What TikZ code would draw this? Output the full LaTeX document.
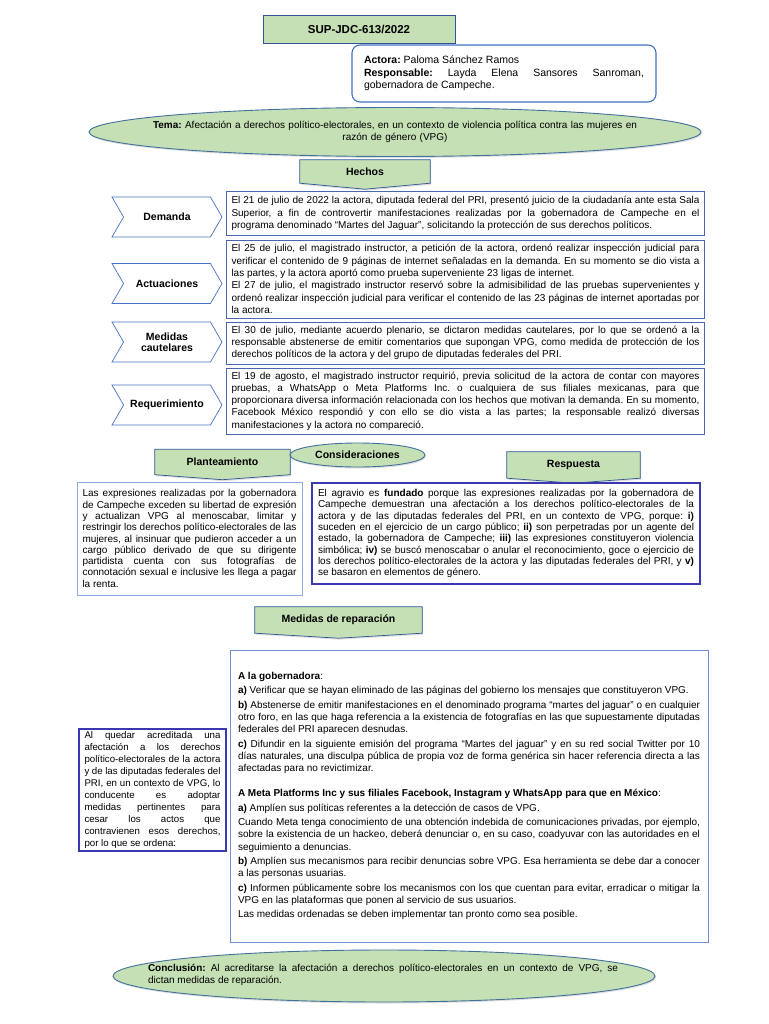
\documentclass[tikz,border=0pt]{standalone}
\usepackage{fontspec}
\setmainfont{Liberation Sans}
\usetikzlibrary{shapes.geometric,shapes.symbols,backgrounds,shadows}
\frenchspacing
\definecolor{gfill}{HTML}{C5E0B4}
\definecolor{gbord}{HTML}{2F5597}
\definecolor{ebord}{HTML}{41719C}
\definecolor{tbord}{HTML}{4A68B0}
\definecolor{vbord}{HTML}{3A3AAE}
\definecolor{lbord}{HTML}{8FAADC}
\definecolor{mbord}{HTML}{7090D0}
\definecolor{chevc}{HTML}{4472C4}
\newcommand\nohyph{\frenchspacing\hyphenpenalty=10000\exhyphenpenalty=10000\tolerance=9999\emergencystretch=20pt\hbadness=10000\hfuzz=3pt}
\newcommand\bodyfs{\fontsize{10}{12.3}\selectfont\nohyph}
\newcommand\smallfs{\fontsize{10}{11.3}\selectfont\nohyph}
\newcommand\headfs{\fontsize{10.5}{11.5}\selectfont\bfseries}
\newcommand\lb{\linebreak}
\begin{document}
\begin{tikzpicture}[x=1pt,y=-1pt,
  gshape/.style={fill=gfill,draw=gbord,line width=0.7pt,
     drop shadow={shadow xshift=1pt,shadow yshift=-1.5pt,opacity=0.25}},
  ghead/.style={font=\headfs,inner sep=0pt,anchor=center},
  gell/.style={ellipse,fill=gfill,draw=ebord,line width=0.9pt,inner sep=0pt,
     drop shadow={shadow xshift=1pt,shadow yshift=-1.5pt,opacity=0.25}},
  chevbox/.style={signal,signal from=west,signal to=east,signal pointer angle=120,
     draw=chevc,line width=0.7pt,fill=white,font=\headfs,minimum width=110pt,
     minimum height=40pt,inner sep=0pt},
  txtbox/.style={draw=tbord,line width=1pt,fill=white,font=\bodyfs,align=justify,
     inner xsep=5pt,inner ysep=2pt},
]
\useasboundingbox (0,0) rectangle (768,1024);
\begin{scope}[on background layer]
\fill[white] (0,0) rectangle (768,1024);
\end{scope}

% Title
\node[fill=gfill,draw=gbord,line width=0.8pt,minimum width=192pt,minimum height=28pt,
  font=\fontsize{11.5}{13}\selectfont\bfseries,
  drop shadow={shadow xshift=1pt,shadow yshift=-1.5pt,opacity=0.25}] (title) at (359,29) {SUP-JDC-613/2022};

% Actora
\node[draw=chevc,line width=1.1pt,rounded corners=8pt,fill=white,minimum width=304pt,
  minimum height=57pt,font=\fontsize{10.5}{12.5}\selectfont\nohyph,text width=280pt,align=justify,inner xsep=12pt] (actora) at (504,73.5)
  {\textbf{Actora:} Paloma Sánchez Ramos\\
  \textbf{Responsable:} Layda Elena Sansores Sanroman,\lb gobernadora de Campeche.};

% Tema
\node[gell,minimum width=612pt,minimum height=49pt] (tema) at (395,132) {};
\node[font=\bodyfs,text width=500pt,align=center,inner sep=0pt] (tematxt) at (tema.center)
  {\textbf{Tema:} Afectación a derechos político-electorales, en un contexto de violencia política contra las mujeres en\\ razón de género (VPG)};

% Hechos
\node[ghead,minimum width=130pt,minimum height=23pt] (hechos) at (365,171.5) {Hechos};
\begin{scope}[on background layer]
\draw[gshape] (hechos.north west) -- (hechos.north east) -- (hechos.south east)
  -- ([yshift=-6pt]hechos.south) -- (hechos.south west) -- cycle;
\end{scope}

% Demanda
\node[chevbox] (demanda) at (167,217) {Demanda};
\node[txtbox,text width=468pt,minimum height=43pt] (demtxt) at (465.5,213.5)
  {El 21 de julio de 2022 la actora, diputada federal del PRI, presentó juicio de la ciudadanía ante esta Sala\lb Superior, a fin de controvertir manifestaciones realizadas por la gobernadora de Campeche en el\lb programa denominado “Martes del Jaguar”, solicitando la protección de sus derechos políticos.};

% Actuaciones
\node[chevbox] (actuac) at (167,283.5) {Actuaciones};
\node[txtbox,text width=468pt,minimum height=78pt] (acttxt) at (465.5,279)
  {El 25 de julio, el magistrado instructor, a petición de la actora, ordenó realizar inspección judicial para\lb verificar el contenido de 9 páginas de internet señaladas en la demanda. En su momento se dio vista a\lb las partes, y la actora aportó como prueba superveniente 23 ligas de internet.\\
  El 27 de julio, el magistrado instructor reservó sobre la admisibilidad de las pruebas supervenientes y\lb ordenó realizar inspección judicial para verificar el contenido de las 23 páginas de internet aportadas por\lb la actora.};

% Medidas cautelares
\node[chevbox,align=center] (medcaut) at (167,342) {Medidas\\cautelares};
\node[txtbox,text width=468pt,minimum height=42pt] (medtxt) at (465.5,343)
  {El 30 de julio, mediante acuerdo plenario, se dictaron medidas cautelares, por lo que se ordenó a la\lb responsable abstenerse de emitir comentarios que supongan VPG, como medida de protección de los\lb derechos políticos de la actora y del grupo de diputadas federales del PRI.};

% Requerimiento
\node[chevbox] (reque) at (167,405) {Requerimiento};
\node[txtbox,text width=468pt,minimum height=66pt] (reqtxt) at (465.5,401)
  {El 19 de agosto, el magistrado instructor requirió, previa solicitud de la actora de contar con mayores\lb pruebas, a WhatsApp o Meta Platforms Inc. o cualquiera de sus filiales mexicanas, para que\lb proporcionara diversa información relacionada con los hechos que motivan la demanda. En su momento,\lb Facebook México respondió y con ello se dio vista a las partes; la responsable realizó diversas\lb manifestaciones y la actora no compareció.};

% Consideraciones
\node[gell,minimum width=135pt,minimum height=24pt] (consid) at (357.5,455) {};
\node[ghead] (considtxt) at (357.5,454.5) {Consideraciones};

\node[ghead,minimum width=135pt,minimum height=25pt] (plant) at (222.5,462) {Planteamiento};
\node[ghead,minimum width=133pt,minimum height=26pt] (resp) at (573.5,465) {Respuesta};
\node[ghead,minimum width=167pt,minimum height=26pt] (medrep) at (338.5,620) {Medidas de reparación};
\begin{scope}[on background layer]
\draw[gshape] (plant.north west) -- (plant.north east) -- (plant.south east)
  -- ([yshift=-5pt]plant.south) -- (plant.south west) -- cycle;
\draw[gshape] (resp.north west) -- (resp.north east) -- (resp.south east)
  -- ([yshift=-5pt]resp.south) -- (resp.south west) -- cycle;
\draw[gshape] (medrep.north west) -- (medrep.north east) -- (medrep.south east)
  -- ([yshift=-5pt]medrep.south) -- (medrep.south west) -- cycle;
\end{scope}

% Planteamiento text
\node[txtbox,draw=lbord,font=\smallfs,text width=214pt,inner xsep=5.5pt,minimum height=113pt] (planttxt) at (189.5,538.5)
  {Las expresiones realizadas por la gobernadora\lb de Campeche exceden su libertad de expresión\lb y actualizan VPG al menoscabar, limitar y\lb restringir los derechos político-electorales de las\lb mujeres, al insinuar que pudieron acceder a un\lb cargo público derivado de que su dirigente\lb partidista cuenta con sus fotografías de\lb connotación sexual e inclusive les llega a pagar\lb la renta.};

% Respuesta text
\node[txtbox,draw=vbord,line width=1.2pt,font=\smallfs,text width=376pt,inner xsep=6pt,minimum height=101pt] (resptxt) at (506,533.5)
  {El agravio es \textbf{fundado} porque las expresiones realizadas por la gobernadora de\lb Campeche demuestran una afectación a los derechos político-electorales de la\lb actora y de las diputadas federales del PRI, en un contexto de VPG, porque: \textbf{i)}\lb suceden en el ejercicio de un cargo público; \textbf{ii)} son perpetradas por un agente del\lb estado, la gobernadora de Campeche; \textbf{iii)} las expresiones constituyeron violencia\lb simbólica; \textbf{iv)} se buscó menoscabar o anular el reconocimiento, goce o ejercicio de\lb los derechos político-electorales de la actora y las diputadas federales del PRI, y \textbf{v)}\lb se basaron en elementos de género.};

% Left box
\node[txtbox,draw=vbord,line width=1.1pt,font=\fontsize{9.7}{11.9}\selectfont\nohyph,text width=136pt,inner xsep=5.5pt,minimum height=122pt] (ordena) at (152.5,790)
  {Al quedar acreditada una\lb afectación a los derechos\lb político-electorales de la actora\lb y de las diputadas federales del\lb PRI, en un contexto de VPG, lo\lb conducente es adoptar\lb medidas pertinentes para\lb cesar los actos que\lb contravienen esos derechos,\lb por lo que se ordena:};

% Big box
\node[txtbox,draw=mbord,line width=1pt,text width=462pt,inner xsep=8pt,minimum height=292pt] (medidas) at (469,796)
  {\setlength{\parskip}{2pt}%
  \textbf{A la gobernadora}:\par
  \textbf{a)} Verificar que se hayan eliminado de las páginas del gobierno los mensajes que constituyeron VPG.\par
  \textbf{b)} Abstenerse de emitir manifestaciones en el denominado programa “martes del jaguar” o en cualquier\lb otro foro, en las que haga referencia a la existencia de fotografías en las que supuestamente diputadas\lb federales del PRI aparecen desnudas.\par
  \textbf{c)} Difundir en la siguiente emisión del programa “Martes del jaguar” y en su red social Twitter por 10\lb días naturales, una disculpa pública de propia voz de forma genérica sin hacer referencia directa a las\lb afectadas para no revictimizar.\par
  \vspace{11pt}
  \textbf{A Meta Platforms Inc y sus filiales Facebook, Instagram y WhatsApp para que en México}:\par
  \textbf{a)} Amplíen sus políticas referentes a la detección de casos de VPG.\par
  Cuando Meta tenga conocimiento de una obtención indebida de comunicaciones privadas, por ejemplo,\lb sobre la existencia de un hackeo, deberá denunciar o, en su caso, coadyuvar con las autoridades en el\lb seguimiento a denuncias.\par
  \textbf{b)} Amplíen sus mecanismos para recibir denuncias sobre VPG. Esa herramienta se debe dar a conocer\lb a las personas usuarias.\par
  \textbf{c)} Informen públicamente sobre los mecanismos con los que cuentan para evitar, erradicar o mitigar la\lb VPG en las plataformas que ponen al servicio de sus usuarios.\par
  Las medidas ordenadas se deben implementar tan pronto como sea posible.};

% Conclusion
\node[gell,minimum width=542pt,minimum height=52pt] (concl) at (384,976) {};
\node[font=\bodyfs,text width=470pt,align=justify,inner sep=0pt] (concltxt) at (383,974.5)
  {\textbf{Conclusión:} Al acreditarse la afectación a derechos político-electorales en un contexto de VPG, se\lb dictan medidas de reparación.};
\end{tikzpicture}
\end{document}
